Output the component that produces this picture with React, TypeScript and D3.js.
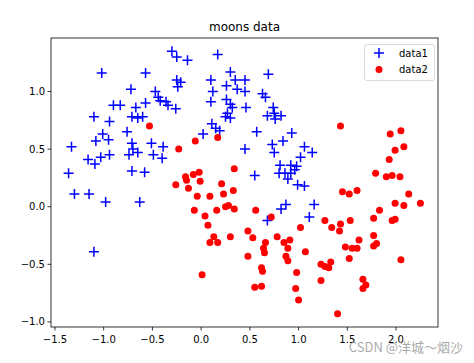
import { useEffect, useRef } from "react";
import { select, scaleLinear, extent } from "d3";

// blue "+" points (moon 1)
const data1X = [
  -0.3, -0.25, -1.02, -0.57, -0.25, -0.21, -0.24, -0.72, -0.47, -0.44, -0.42, -0.9, -0.83, -0.57,
  -0.36, -0.34, -0.26, -0.67, -1.1, -0.94, -0.71, -0.65, -0.6, -0.76, -1.01, -0.95, -1.08, -1.33,
  -0.51, -0.39, -0.71, -0.7, -0.65, -0.74, -0.49, -0.4, -0.94, -1.16, -1.03, -1.09, -1.36, -0.71,
  -0.58, -1.3, -1.15, -0.98, -0.63, -1.1, -0.14, 0.17, 0.3, 0.69, 0.1, 0.35, 0.45, 0.26, 0.37,
  0.45, 0.12, 0.63, 0.66, 0.1, 0.26, 0.3, 0.32, 0.46, 0.27, 0.25, 0.3, 0.74, 0.75, 0.68, 0.82,
  0.76, 0.11, 0.15, 0.19, 0.02, 0.57, 0.93, 0.84, 0.73, 0.75, 0.45, 1.06, 1.14, 1.02, 0.81, 0.92,
  0.98, 0.96, 0.8, 0.86, 0.92, 0.89, 0.55, 0.99, 1.06, 0.87, 0.82, 1.16, 1.11, 0.68,
];
const data1Y = [
  1.35, 1.3, 1.16, 1.16, 1.1, 1.08, 1.04, 1.02, 1.0, 0.95, 0.92, 0.88, 0.88, 0.9, 0.91, 0.88,
  0.85, 0.86, 0.78, 0.74, 0.78, 0.77, 0.78, 0.65, 0.63, 0.58, 0.57, 0.52, 0.55, 0.52, 0.55, 0.5,
  0.47, 0.45, 0.45, 0.42, 0.45, 0.41, 0.43, 0.37, 0.29, 0.31, 0.3, 0.11, 0.11, 0.04, 0.04, -0.39,
  1.27, 1.32, 1.17, 1.15, 1.1, 1.1, 1.1, 1.05, 1.02, 1.0, 1.0, 0.98, 0.95, 0.91, 0.93, 0.89, 0.86,
  0.86, 0.81, 0.78, 0.77, 0.86, 0.81, 0.79, 0.79, 0.76, 0.72, 0.68, 0.66, 0.63, 0.65, 0.64, 0.57,
  0.54, 0.47, 0.5, 0.52, 0.47, 0.43, 0.36, 0.36, 0.35, 0.32, 0.29, 0.29, 0.29, 0.24, 0.27, 0.19,
  0.18, 0.02, -0.02, 0.02, -0.09, -0.12,
];

// red dots (moon 2)
const data2X = [
  -0.53, -0.06, 0.17, -0.23, 0.34, -0.08, -0.02, -0.16, -0.15, -0.01, -0.26, -0.13, 0.21, 0.33,
  0.23, -0.04, 0.09, 0.28, 0.34, 0.25, 0.16, -0.07, 0.04, 0.07, 0.13, 0.09, 0.17, 0.3, 0.01, 0.56,
  0.72, 1.02, 0.48, 0.53, 0.78, 0.66, 0.64, 0.65, 0.48, 0.85, 0.91, 0.89, 0.87, 0.89, 1.07, 0.62,
  0.63, 0.98, 0.55, 0.62, 0.97, 1.0, 1.27, 1.34, 1.43, 1.42, 1.53, 1.45, 1.52, 1.6, 1.23, 1.27,
  1.33, 1.31, 1.23, 1.62, 1.48, 1.55, 1.6, 1.52, 1.66, 1.69, 1.66, 1.4, 1.79, 1.93, 1.9, 1.96,
  2.04, 2.13, 2.25, 1.99, 2.08, 1.83, 1.77, 1.96, 1.99, 1.77, 1.77, 1.8, 2.05, 1.43, 1.94, 2.05,
  1.99, 2.08,
];
const data2Y = [
  0.7, 0.57, 0.6, 0.5, 0.33, 0.28, 0.3, 0.26, 0.23, 0.22, 0.19, 0.16, 0.2, 0.14, 0.11, 0.09, 0.09,
  0.01, -0.02, 0.0, -0.03, -0.03, -0.08, -0.16, -0.26, -0.31, -0.31, -0.26, -0.59, -0.03, -0.09,
  -0.18, -0.21, -0.27, -0.26, -0.31, -0.36, -0.4, -0.43, -0.31, -0.29, -0.36, -0.43, -0.47, -0.39,
  -0.53, -0.56, -0.57, -0.7, -0.69, -0.71, -0.81, -0.12, -0.18, -0.15, -0.21, -0.12, 0.13, 0.11,
  0.14, -0.5, -0.52, -0.48, -0.53, -0.64, -0.29, -0.35, -0.36, -0.36, -0.45, -0.63, -0.68, -0.71,
  -0.93, 0.29, 0.41, 0.26, 0.27, 0.26, 0.11, 0.03, 0.03, 0.01, -0.03, -0.1, -0.12, -0.11, -0.25,
  -0.34, -0.32, -0.46, 0.7, 0.63, 0.66, 0.49, 0.52,
];

const xTicks = [-1.5, -1.0, -0.5, 0.0, 0.5, 1.0, 1.5, 2.0];
const yTicks = [-1.0, -0.5, 0.0, 0.5, 1.0];
const legendLabels = ["data1", "data2"];

const W = 474;
const H = 363;
const FONT = "DejaVu Sans, sans-serif";

const fmt = (v: number) => (v < 0 ? "\u2212" : "") + Math.abs(v).toFixed(1);

function padded(vals: number[]): [number, number] {
  const [lo, hi] = extent(vals) as [number, number];
  const m = (hi - lo) * 0.05;
  return [lo - m, hi + m];
}

export default function App() {
  const svgRef = useRef<SVGSVGElement | null>(null);

  useEffect(() => {
    if (!svgRef.current) return;
    const svg = select(svgRef.current);
    svg.selectAll("*").remove();

    const left = 51;
    const right = 438;
    const top = 38;
    const bottom = 327;

    const x = scaleLinear().domain(padded([...data1X, ...data2X])).range([left, right]);
    const y = scaleLinear().domain(padded([...data1Y, ...data2Y])).range([bottom, top]);

    svg.append("rect").attr("width", W).attr("height", H).attr("fill", "#fff");

    // points
    const pts1 = data1X.map((d, i) => ({ x: d, y: data1Y[i] }));
    const pts2 = data2X.map((d, i) => ({ x: d, y: data2Y[i] }));

    const gPlot = svg.append("g");
    gPlot
      .selectAll("path.p1")
      .data(pts1)
      .enter()
      .append("path")
      .attr("class", "p1")
      .attr("d", (d) => {
        const cx = x(d.x);
        const cy = y(d.y);
        return `M${cx - 5},${cy}H${cx + 5}M${cx},${cy - 5}V${cy + 5}`;
      })
      .attr("stroke", "#0000ff")
      .attr("stroke-width", 1.5)
      .attr("fill", "none");

    gPlot
      .selectAll("circle.p2")
      .data(pts2)
      .enter()
      .append("circle")
      .attr("class", "p2")
      .attr("cx", (d) => x(d.x))
      .attr("cy", (d) => y(d.y))
      .attr("r", 3.5)
      .attr("fill", "#ff0000");

    // frame
    svg
      .append("rect")
      .attr("x", left)
      .attr("y", top)
      .attr("width", right - left)
      .attr("height", bottom - top)
      .attr("fill", "none")
      .attr("stroke", "#000")
      .attr("stroke-width", 0.8);

    // x ticks
    const gx = svg.append("g");
    xTicks.forEach((t) => {
      gx.append("line")
        .attr("x1", x(t))
        .attr("x2", x(t))
        .attr("y1", bottom)
        .attr("y2", bottom + 3.5)
        .attr("stroke", "#000")
        .attr("stroke-width", 0.8);
      gx.append("text")
        .attr("x", x(t))
        .attr("y", bottom + 16)
        .attr("text-anchor", "middle")
        .attr("font-family", FONT)
        .attr("font-size", 10)
        .attr("fill", "#000")
        .text(fmt(t));
    });

    // y ticks
    const gy = svg.append("g");
    yTicks.forEach((t) => {
      gy.append("line")
        .attr("x1", left - 3.5)
        .attr("x2", left)
        .attr("y1", y(t))
        .attr("y2", y(t))
        .attr("stroke", "#000")
        .attr("stroke-width", 0.8);
      gy.append("text")
        .attr("x", left - 6)
        .attr("y", y(t))
        .attr("dy", "0.35em")
        .attr("text-anchor", "end")
        .attr("font-family", FONT)
        .attr("font-size", 10)
        .attr("fill", "#000")
        .text(fmt(t));
    });

    // title
    svg
      .append("text")
      .attr("x", (left + right) / 2)
      .attr("y", 31)
      .attr("text-anchor", "middle")
      .attr("font-family", FONT)
      .attr("font-size", 12)
      .attr("fill", "#000")
      .text("moons data");

    // legend
    const gl = svg.append("g");
    gl.append("rect")
      .attr("x", 364.5)
      .attr("y", 44.5)
      .attr("width", 70)
      .attr("height", 36)
      .attr("rx", 2.5)
      .attr("fill", "#fff")
      .attr("fill-opacity", 0.8)
      .attr("stroke", "#d0d0d0")
      .attr("stroke-width", 0.8);
    legendLabels.forEach((lab, i) => {
      const ly = 53 + i * 16.5;
      if (i === 0) {
        gl.append("path")
          .attr("d", `M374,${ly}H384M379,${ly - 5}V${ly + 5}`)
          .attr("stroke", "#0000ff")
          .attr("stroke-width", 1.5);
      } else {
        gl.append("circle").attr("cx", 379).attr("cy", ly).attr("r", 3.5).attr("fill", "#ff0000");
      }
      gl.append("text")
        .attr("x", 399)
        .attr("y", ly)
        .attr("dy", "0.35em")
        .attr("font-family", FONT)
        .attr("font-size", 10)
        .attr("fill", "#000")
        .text(lab);
    });

    // watermark
    svg
      .append("text")
      .attr("x", 463)
      .attr("y", 352)
      .attr("text-anchor", "end")
      .attr("font-family", "Noto Sans CJK SC, sans-serif")
      .attr("font-size", 13)
      .attr("fill", "#999")
      .attr("fill-opacity", 0.85)
      .text("CSDN @洋城～烟沙");
  }, []);

  return (
    <svg
      ref={svgRef}
      width={W}
      height={H}
      style={{ position: "absolute", left: 0, top: 0 }}
    />
  );
}
